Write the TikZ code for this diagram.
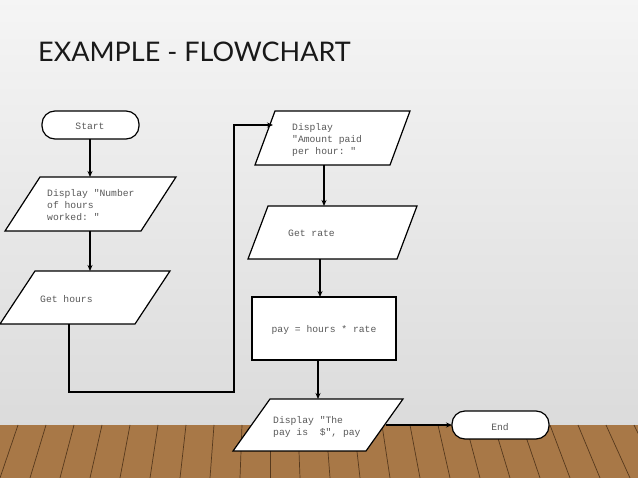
\documentclass[tikz,border=0pt]{standalone}
\usepackage{fontspec}
\setmonofont{Liberation Mono}
\newfontfamily\titlefont{Lato}
\usetikzlibrary{arrows.meta}
\begin{document}
\begin{tikzpicture}[x=1pt,y=-1pt,
  box/.style={draw=black,line width=1.2pt,fill=white},
  lbl/.style={font=\ttfamily\fontsize{9.7}{12}\selectfont,text=black!65,align=left,anchor=west,inner sep=0},
  arr/.style={line width=1.2pt,-{Stealth[length=6pt,width=5pt]}}]
\useasboundingbox (0,0) rectangle (638,478);
\fill[top color=white!92!gray,bottom color=black!14] (0,0) rectangle (638,425);
\fill[brown!80!orange!75!black!85] (0,425) rectangle (638,478);
\foreach \i in {0,...,24}{
  \draw[brown!45!black,line width=0.7pt] ({-10+\i*28},425) -- ({-30+\i*30},478);}
\node[font=\titlefont\fontsize{27}{27}\selectfont,anchor=base west,inner sep=0,text=black!90] (title) at (38,62) {EXAMPLE - FLOWCHART};
% start
\draw[box,rounded corners=13pt] (42,111) rectangle (139,139);
\node[lbl,anchor=center] (start) at (90,126) {Start};
\coordinate (s1) at (90,139);
% display number
\draw[box] (40,177) -- (176,177) -- (141,231) -- (5,231) -- cycle;
\node[lbl] (dn) at (47,205) {Display "Number\\of hours\\worked: "};
\coordinate (dnt) at (90,177); \coordinate (dnb) at (90,231);
% get hours
\draw[box] (35,271) -- (170,271) -- (135,324) -- (0,324) -- cycle;
\node[lbl] (gh) at (40,299) {Get hours};
\coordinate (ght) at (90,271); \coordinate (ghb) at (69,324);
\coordinate (c1) at (69,392); \coordinate (c2) at (234,392); \coordinate (c3) at (234,125);
% display amount
\draw[box] (275,111) -- (410,111) -- (390,165) -- (255,165) -- cycle;
\node[lbl] (da) at (292,140) {Display\\"Amount paid\\per hour: "};
\coordinate (dal) at (273,125); \coordinate (dab) at (324,165);
% get rate
\draw[box] (268,206) -- (417,206) -- (397,259) -- (248,259) -- cycle;
\node[lbl] (gr) at (288,233) {Get rate};
\coordinate (grt) at (324,206); \coordinate (grb) at (320,259);
% compute
\draw[box] (252,297) rectangle (396,360);
\node[lbl,anchor=center] (pay) at (324,330) {pay = hours * rate};
\coordinate (payt) at (320,297); \coordinate (payb) at (318,360);
% display pay
\draw[box] (270,399) -- (403,399) -- (366,451) -- (233,451) -- cycle;
\node[lbl] (dp) at (273,427) {Display "The\\pay is \ \$", pay};
\coordinate (dpt) at (318,399); \coordinate (dpr) at (386,425);
% end
\draw[box,rounded corners=13pt] (452,411) rectangle (549,439);
\node[lbl,anchor=center] (end) at (500,427) {End};
\coordinate (endl) at (452,425);
% connectors
\draw[arr] (s1) -- (dnt);
\draw[arr] (dnb) -- (ght);
\draw[arr] (ghb) -- (c1) -- (c2) -- (c3) -- (dal);
\draw[arr] (dab) -- (grt);
\draw[arr] (grb) -- (payt);
\draw[arr] (payb) -- (dpt);
\draw[arr] (dpr) -- (endl);
\end{tikzpicture}
\end{document}
